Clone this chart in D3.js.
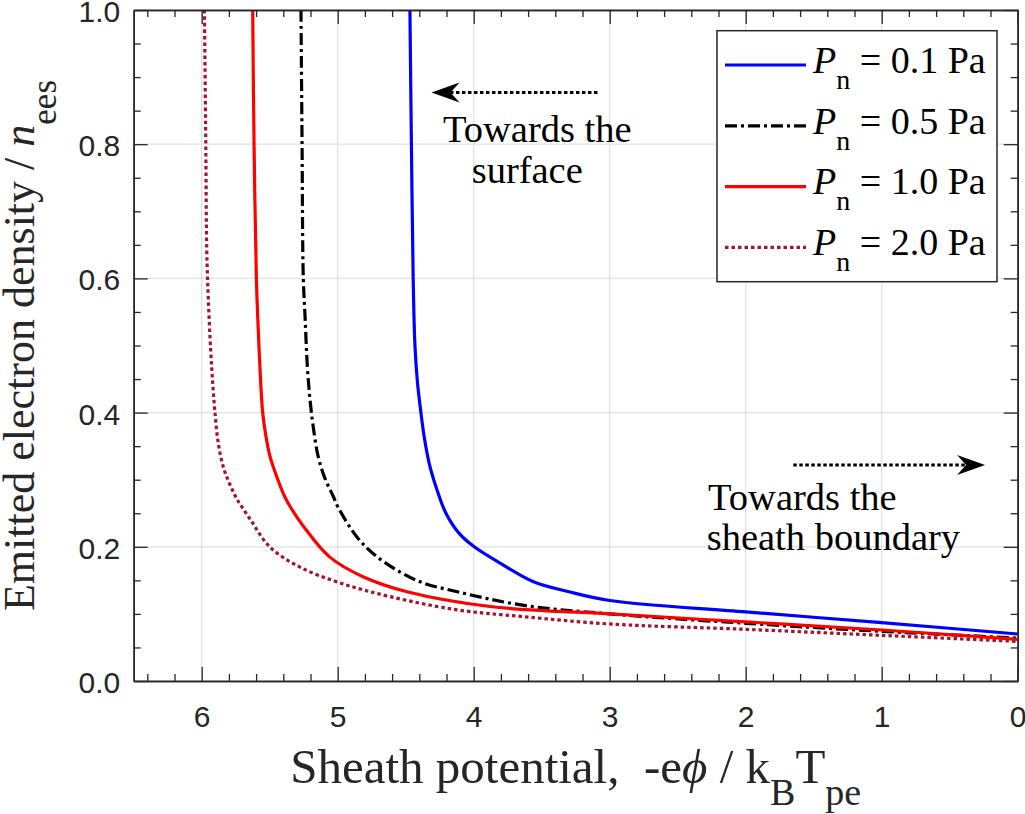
<!DOCTYPE html>
<html><head><meta charset="utf-8">
<script src="https://cdn.jsdelivr.net/npm/d3@7"></script>
<style>body{margin:0;background:#fff}svg{display:block}</style>
</head><body><svg id="c" width="1025" height="814"></svg>
<script>
// ---------- data ----------
const xTickValues = [6, 5, 4, 3, 2, 1, 0];
const yTickValues = [0, 0.2, 0.4, 0.6, 0.8, 1.0];
const seriesLabels = ["0.1", "0.5", "1.0", "2.0"];

const p01X = [4.469, 4.458, 4.445, 4.432, 4.413, 4.388, 4.364, 4.327, 4.278, 4.204, 4.107, 3.996, 3.80, 3.56, 3.3, 3.0, 2.0, 1.0, 0];
const p01Y = [1.0, 0.8, 0.6, 0.5, 0.444, 0.4, 0.364, 0.324, 0.29, 0.25, 0.22, 0.2, 0.175, 0.148, 0.133, 0.12, 0.103, 0.087, 0.07];

const p05X = [5.27, 5.262, 5.253, 5.24, 5.223, 5.203, 5.18, 5.143, 5.09, 5.032, 5.0, 4.86, 4.71, 4.42, 4.12, 3.64, 3.0, 2.0, 1.0, 0];
const p05Y = [1.0, 0.8, 0.6, 0.543, 0.468, 0.418, 0.379, 0.334, 0.3, 0.275, 0.26, 0.215, 0.185, 0.15, 0.133, 0.113, 0.1, 0.086, 0.074, 0.064];

const p10X = [5.625, 5.615, 5.598, 5.585, 5.566, 5.551, 5.527, 5.497, 5.44, 5.39, 5.35, 5.25, 5.06, 4.81, 4.49, 3.88, 3.0, 2.0, 1.0, 0];
const p10Y = [1.0, 0.8, 0.6, 0.528, 0.444, 0.399, 0.364, 0.334, 0.3, 0.275, 0.26, 0.23, 0.185, 0.155, 0.133, 0.111, 0.1, 0.088, 0.076, 0.062];

const p20X = [5.98, 5.97, 5.963, 5.951, 5.934, 5.919, 5.902, 5.878, 5.841, 5.797, 5.743, 5.64, 5.5, 5.28, 4.98, 4.62, 4.12, 3.64, 3.0, 2.0, 1.0, 0];
const p20Y = [1.0, 0.8, 0.643, 0.568, 0.493, 0.444, 0.399, 0.354, 0.319, 0.295, 0.272, 0.24, 0.2, 0.17, 0.146, 0.126, 0.106, 0.096, 0.085, 0.077, 0.068, 0.059];

// annotations (data coordinates): arrow from -> to
const arrow1 = {x0: 3.09, x1: 4.31, y: 0.877};
const arrow2 = {x0: 1.65, x1: 0.24, y: 0.322};
const note1Lines = ["Towards the", "surface"];
const note1X = [4.226, 4.015];
const note1Y = [0.804, 0.742];
const note2Lines = ["Towards the", "sheath boundary"];
const note2X = [2.277, 2.287];
const note2Y = [0.255, 0.195];

// ---------- layout ----------
const svg = d3.select("#c");
const M = {l: 133.7, r: 1017.7, t: 10, b: 681};
const x = d3.scaleLinear().domain([6.5, 0]).range([M.l, M.r]);
const y = d3.scaleLinear().domain([0, 1]).range([M.b, M.t]);
const AX = "#262626";
const serif = "'Liberation Serif','Times New Roman',serif";
const sans = "'Liberation Sans',Arial,Helvetica,sans-serif";

svg.append("rect").attr("width", 1025).attr("height", 814).attr("fill", "#fff");

// grid
const grid = svg.append("g");
grid.selectAll(".gx").data(xTickValues).join("line")
  .attr("x1", d => x(d)).attr("x2", d => x(d)).attr("y1", M.t).attr("y2", M.b)
  .attr("stroke", "#e1e1e1").attr("stroke-width", 1.3);
grid.selectAll(".gy").data(yTickValues).join("line")
  .attr("y1", d => y(d)).attr("y2", d => y(d)).attr("x1", M.l).attr("x2", M.r)
  .attr("stroke", "#e1e1e1").attr("stroke-width", 1.3);

// curves
const series = [
  {xs: p01X, ys: p01Y, color: "#0000ff", dash: null},
  {xs: p05X, ys: p05Y, color: "#000000", dash: "12,4,3,4"},
  {xs: p10X, ys: p10Y, color: "#ff0000", dash: null},
  {xs: p20X, ys: p20Y, color: "#a2142f", dash: "3.5,3"}
];
svg.append("clipPath").attr("id", "clip").append("rect")
  .attr("x", M.l).attr("y", M.t).attr("width", M.r - M.l).attr("height", M.b - M.t);
const line = d3.line().x(d => x(d[0])).y(d => y(d[1])).curve(d3.curveCatmullRom.alpha(0.5));
const cg = svg.append("g").attr("clip-path", "url(#clip)");
[3, 1, 2, 0].forEach(i => {
  const s = series[i];
  cg.append("path").datum(s.xs.map((v, k) => [v, s.ys[k]]))
    .attr("d", line).attr("fill", "none").attr("stroke", s.color)
    .attr("stroke-width", 3.2).attr("stroke-dasharray", s.dash)
    .attr("stroke-linejoin", "round");
});

// axes
function styleAxis(g) {
  g.selectAll("path.domain").attr("stroke", AX).attr("stroke-width", 1.5);
  g.selectAll(".tick line").attr("stroke", AX).attr("stroke-width", 1.3);
  g.selectAll("text").attr("fill", AX).style("font-family", sans).style("font-size", "30px");
}
const xMinor = d3.range(0, 6.45, 0.2).filter(v => Math.abs(v - Math.round(v)) > 1e-6);
const yMinor = d3.range(0.05, 1.0, 0.05).filter(v => Math.abs(v * 5 - Math.round(v * 5)) > 1e-6);

const gb = svg.append("g").attr("transform", `translate(0,${M.b})`)
  .call(d3.axisBottom(x).tickValues(xTickValues).tickFormat(d3.format("d")).tickSize(-14).tickPadding(25).tickSizeOuter(0));
styleAxis(gb);
gb.selectAll("text").attr("dy", "0.71em");
svg.append("g").attr("transform", `translate(0,${M.b})`)
  .call(d3.axisBottom(x).tickValues(xMinor).tickFormat("").tickSize(-7).tickSizeOuter(0)).call(styleAxis);

svg.append("g").attr("transform", `translate(0,${M.t})`)
  .call(d3.axisTop(x).tickValues(xTickValues).tickFormat("").tickSize(-14).tickSizeOuter(0)).call(styleAxis);
svg.append("g").attr("transform", `translate(0,${M.t})`)
  .call(d3.axisTop(x).tickValues(xMinor).tickFormat("").tickSize(-7).tickSizeOuter(0)).call(styleAxis);

const gl = svg.append("g").attr("transform", `translate(${M.l},0)`)
  .call(d3.axisLeft(y).tickValues(yTickValues).tickFormat(d3.format(".1f")).tickSize(-14).tickPadding(13.5).tickSizeOuter(0));
styleAxis(gl);
gl.selectAll("text").attr("dy", "0.38em");
svg.append("g").attr("transform", `translate(${M.l},0)`)
  .call(d3.axisLeft(y).tickValues(yMinor).tickFormat("").tickSize(-7).tickSizeOuter(0)).call(styleAxis);

svg.append("g").attr("transform", `translate(${M.r},0)`)
  .call(d3.axisRight(y).tickValues(yTickValues).tickFormat("").tickSize(-14).tickSizeOuter(0)).call(styleAxis);
svg.append("g").attr("transform", `translate(${M.r},0)`)
  .call(d3.axisRight(y).tickValues(yMinor).tickFormat("").tickSize(-7).tickSizeOuter(0)).call(styleAxis);

// axis labels
const xl = svg.append("text").attr("x", (M.l + M.r) / 2).attr("y", 783)
  .attr("text-anchor", "middle").attr("fill", AX)
  .style("font-family", serif).style("font-size", "49px").style("white-space", "pre");
xl.append("tspan").text("Sheath potential,  -e");
xl.append("tspan").style("font-style", "italic").text("ϕ");
xl.append("tspan").text(" / k");
xl.append("tspan").attr("dy", 22).style("font-size", "38px").text("B");
xl.append("tspan").attr("dy", -22).text("T");
xl.append("tspan").attr("dy", 22).style("font-size", "38px").text("pe");

const yl = svg.append("text").attr("transform", `translate(34,${(M.t + M.b) / 2}) rotate(-90)`)
  .attr("text-anchor", "middle").attr("fill", AX)
  .style("font-family", serif).style("font-size", "44px");
yl.append("tspan").text("Emitted electron density / ");
yl.append("tspan").style("font-style", "italic").text("n");
yl.append("tspan").attr("dy", 22).style("font-size", "35px").text("ees");

// annotations
function arrow(a) {
  const xa = x(a.x0), xb = x(a.x1), yy = y(a.y);
  const u = Math.sign(xb - xa);
  const L = 28, w = 10, n = 9;
  svg.append("line").attr("x1", xa).attr("x2", xb - u * (L - n)).attr("y1", yy).attr("y2", yy)
    .attr("stroke", "#000").attr("stroke-width", 3).attr("stroke-dasharray", "3.5,2.5");
  svg.append("path")
    .attr("d", `M${xb},${yy} L${xb - u * L},${yy - w} L${xb - u * (L - n)},${yy} L${xb - u * L},${yy + w} Z`)
    .attr("fill", "#000");
}
arrow(arrow1); arrow(arrow2);
function note(lines, xs, ys) {
  lines.forEach((t, i) => {
    svg.append("text").attr("x", x(xs[i])).attr("y", y(ys[i])).attr("fill", "#000")
      .style("font-family", serif).style("font-size", "38.5px").text(t);
  });
}
note(note1Lines, note1X, note1Y);
note(note2Lines, note2X, note2Y);

// legend
const lg = svg.append("g");
lg.append("rect").attr("x", 717).attr("y", 30.7).attr("width", 280).attr("height", 251)
  .attr("fill", "#fff").attr("stroke", AX).attr("stroke-width", 1.5);
series.forEach((s, i) => {
  const by = 72.7 + i * 60.8;
  lg.append("line").attr("x1", 725).attr("x2", 806).attr("y1", by - 7.7).attr("y2", by - 7.7)
    .attr("stroke", s.color).attr("stroke-width", 3.2).attr("stroke-dasharray", s.dash);
  const t = lg.append("text").attr("x", 813).attr("y", by).attr("fill", "#000")
    .style("font-family", serif).style("font-size", "38px");
  t.append("tspan").style("font-style", "italic").text("P");
  t.append("tspan").attr("dy", 16).style("font-size", "28px").text("n");
  t.append("tspan").attr("dy", -16).text(" = " + seriesLabels[i] + " Pa");
});
</script>
</body></html>
